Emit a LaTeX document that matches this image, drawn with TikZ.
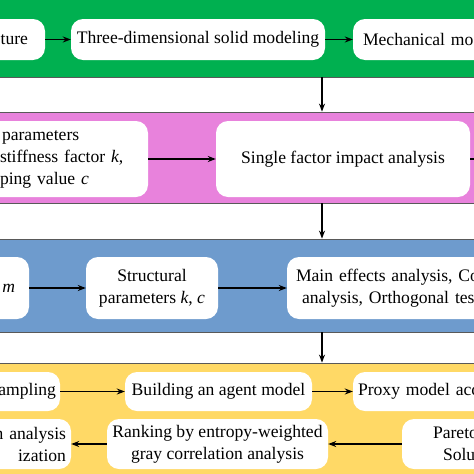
\documentclass[tikz,border=0pt]{standalone}
\usepackage{fontspec}
\setmainfont{Liberation Serif}
\usetikzlibrary{arrows.meta, positioning}
\definecolor{bandgreen}{RGB}{0,176,80}
\definecolor{bandpink}{RGB}{232,130,220}
\definecolor{bandblue}{RGB}{110,155,205}
\definecolor{bandyellow}{RGB}{255,217,102}

\begin{document}
\begin{tikzpicture}[x=1pt, y=-1pt]
		\tikzstyle{Band} = [rectangle, minimum width=500pt, draw=black!65, line width=0.8pt]
		\tikzstyle{Box} = [rectangle, rounded corners=12pt, fill=white, inner ysep=0pt, inner xsep=0pt, align=center, font=\fontsize{17.6}{22}\selectfont]
		\tikzstyle{arrow} = [line width=1.2pt,->,>={Stealth[length=8pt,width=6pt]}]
		
		\useasboundingbox (0,0) rectangle (474,474);
		\clip (0,0) rectangle (474,474);
		
		% bands
		\node (green) [Band, fill=bandgreen, minimum height=87pt] at (237,33.5) {};
		\node (pink) [Band, fill=bandpink, minimum height=91pt] at (237,157.5) {};
		\node (blue) [Band, fill=bandblue, minimum height=93pt] at (237,285.5) {};
		\node (yellow) [Band, fill=bandyellow, minimum height=127pt] at (237,426.5) {};
		
		% green row
		\node (g1) [Box, minimum height=41pt, inner xsep=17pt, text width=71pt, align=right] at (-7.5,39.5) {ture};
		\node (g2) [Box, minimum height=41pt, minimum width=254pt] at (198,39.5) {Three-dimensional solid modeling};
		\node (g3) [Box, minimum height=41pt, inner xsep=10pt, text width=167pt, align=left] at (446.5,39.5) {Mechanical mo};
		\draw [arrow] (g1) -- (g2);
		\draw [arrow] (g2) -- (g3);
		
		% pink row
		\node (p1) [Box, minimum height=76pt, inner xsep=15pt, text width=133pt, align=left] at (66.5,159) {\hspace*{2pt}parameters\\stiffness factor \textit{k},\\ping value \textit{c}};
		\node (p2) [Box, minimum height=76pt, minimum width=254pt] at (343,159) {Single factor impact analysis};
		\coordinate (pout) at (500,159);
		\draw [arrow] (p1) -- (p2);
		\draw [arrow] (p2) -- (pout);
		
		% blue row
		\node (b1) [Box, minimum height=62pt, inner xsep=14pt, text width=21pt, align=right] at (4.5,288) {\textit{m}};
		\node (b2) [Box, minimum height=62pt, minimum width=132pt] at (152,288) {Structural\\parameters \textit{k}, \textit{c}};
		\node (b3) [Box, minimum height=62pt, inner xsep=9pt, text width=235pt, align=left] at (413.5,288) {Main effects analysis, Co\\\hspace*{6pt}analysis, Orthogonal tes};
		\draw [arrow] (b1) -- (b2);
		\draw [arrow] (b2) -- (b3);
		
		% yellow rows
		\node (y1) [Box, minimum height=39pt, inner xsep=4pt, text width=72pt, align=right] at (20,391.5) {ampling};
		\node (y2) [Box, minimum height=39pt, minimum width=187pt] at (218.5,391.5) {Building an agent model};
		\node (y3) [Box, minimum height=39pt, inner xsep=5pt, text width=177pt, align=left] at (446.5,391.5) {Proxy model acc};
		\draw [arrow] (y1) -- (y2);
		\draw [arrow] (y2) -- (y3);
		
		\node (y4) [Box, minimum height=50pt, inner xsep=5pt, text width=81pt, align=right] at (25.5,444) {n analysis\\ization\hspace*{16pt}};
		\node (y5) [Box, minimum height=50pt, minimum width=221pt] at (217.5,444) {Ranking by entropy-weighted\\gray correlation analysis};
		\node (y6) [Box, minimum height=50pt, inner xsep=31pt, text width=76pt, align=left] at (471,444) {Pareto\\\hspace*{10pt}Solu};
		\draw [arrow] (y6) -- (y5);
		\draw [arrow] (y5) -- (y4);
		
		% between bands
		\coordinate (mid) at (322,0);
		\draw [arrow] (green.south -| mid) -- (pink.north -| mid);
		\draw [arrow] (pink.south -| mid) -- (blue.north -| mid);
		\draw [arrow] (blue.south -| mid) -- (yellow.north -| mid);
\end{tikzpicture}
\end{document}
